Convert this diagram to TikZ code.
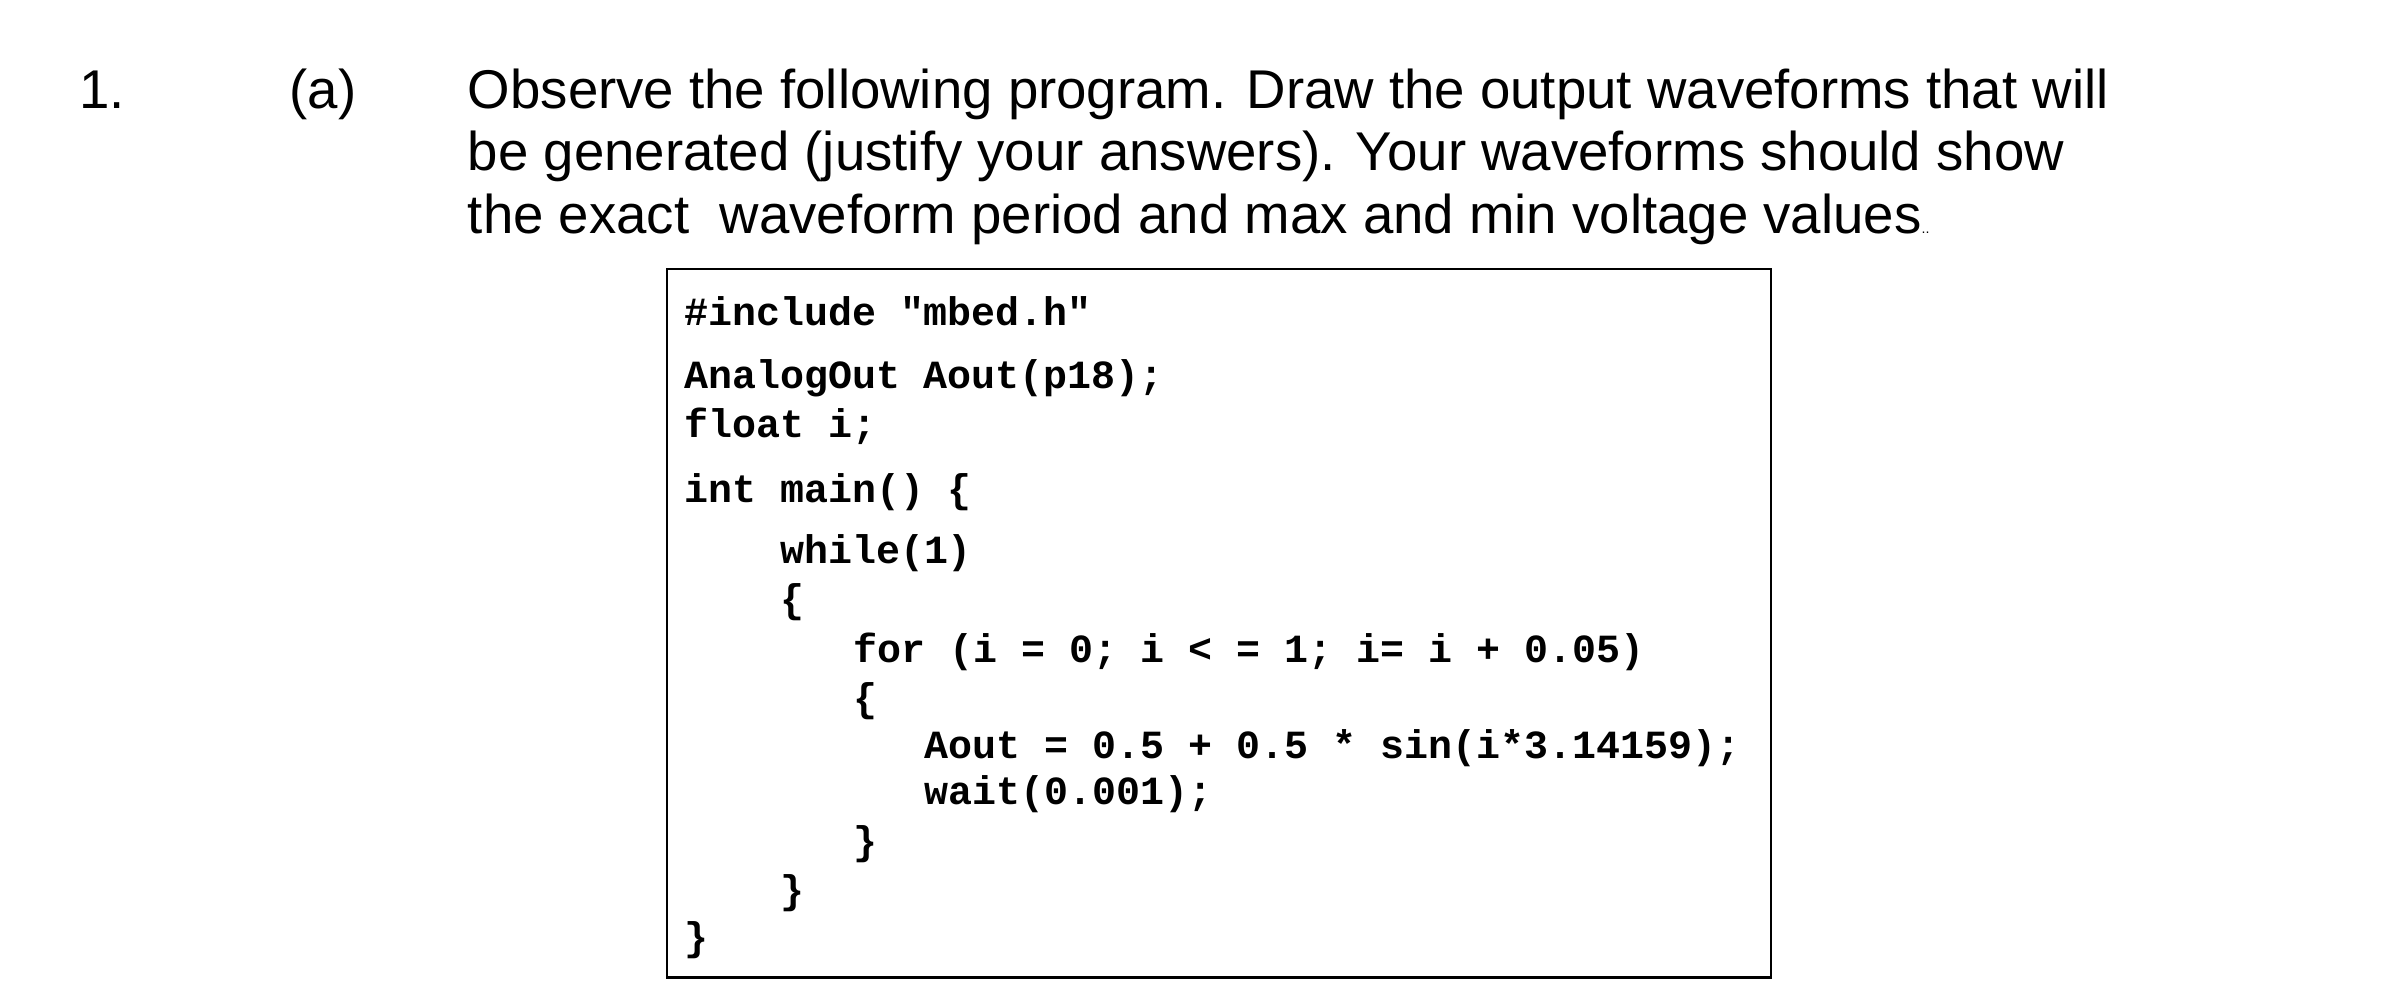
\documentclass[tikz,border=0pt]{standalone}
\usepackage{fontspec}
\setmainfont{Liberation Sans}
\newfontfamily\codefont{Liberation Mono}
\begin{document}
\begin{tikzpicture}[x=0.03cm,y=-0.03cm,
  txt/.style={anchor=base west,inner sep=0pt,font=\fontsize{30.6}{36}\selectfont},
  code/.style={anchor=base west,inner sep=0pt,font=\codefont\bfseries\fontsize{22.4}{26}\selectfont}]
\useasboundingbox (0,0) rectangle (1568,647);
\node[txt] (n1) at (52,71) {1.};
\node[txt] (na) at (190,71) {(a)};
\node[txt] (l1) at (307,71) {Observe the following program. Draw the output waveforms that will};
\node[txt] (l2) at (307,112) {be generated (justify your answers). Your waveforms should show};
\node[txt] (l3) at (307,153) {the exact\ \ waveform period and max and min voltage values\rlap{\fontsize{8}{8}\selectfont..}};
\node[draw,line width=1.3pt,minimum width=725*0.03cm,minimum height=465*0.03cm,anchor=north west,inner sep=0pt] (box) at (437,176) {};
\node[code] (c1) at (449,214) {\#include "mbed.h"};
\node[code] (c2) at (449,255) {AnalogOut Aout(p18);};
\node[code] (c3) at (449,287) {float i;};
\node[code] (c4) at (449,330) {int main() \{};
\node[code] (c5) at (512,370) {while(1)};
\node[code] (c6) at (512,402) {\{};
\node[code] (c7) at (560,435) {for (i = 0; i < = 1; i= i + 0.05)};
\node[code] (c8) at (560,467) {\{};
\node[code] (c9) at (607,498) {Aout = 0.5 + 0.5 * sin(i*3.14159);};
\node[code] (c10) at (607,528) {wait(0.001);};
\node[code] (c11) at (560,561) {\}};
\node[code] (c12) at (512,593) {\}};
\node[code] (c13) at (449,624) {\}};
\end{tikzpicture}
\end{document}
